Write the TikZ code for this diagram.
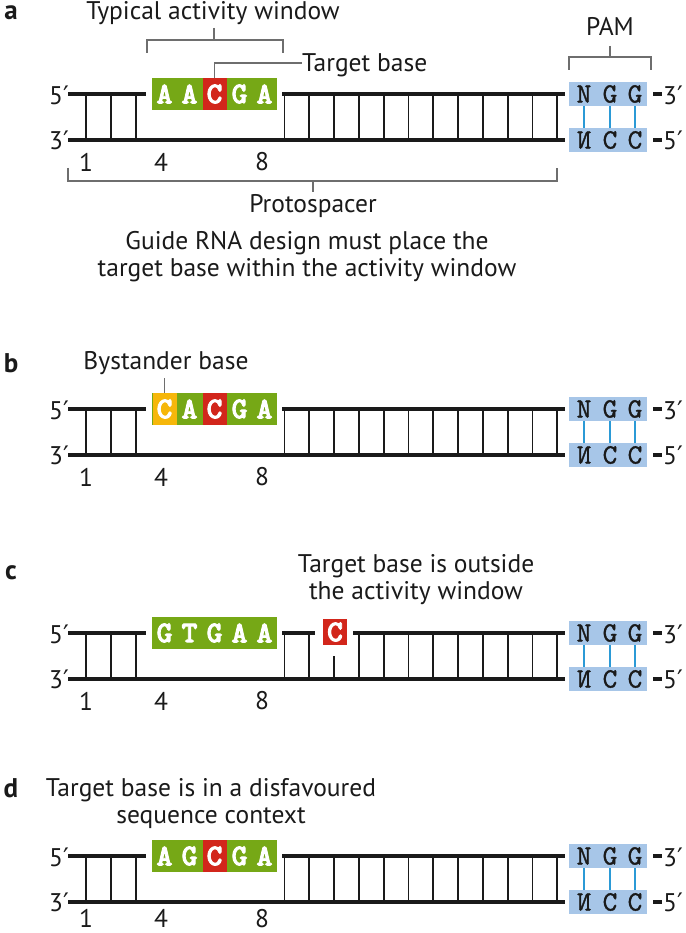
\documentclass[tikz,border=0pt]{standalone}
\usepackage{fontspec}
\setmainfont{PT Sans}
\newfontfamily\primef{DejaVu Sans}
\newfontfamily\monob{lmmonolt10-bold}[Extension=.otf, FakeBold=3]
\newfontfamily\monor{lmmono10-regular}[Extension=.otf, FakeBold=1.2]
\newcommand\prm{{\primef ′}}
\definecolor{grn}{HTML}{76A816}
\definecolor{rd}{HTML}{D2261B}
\definecolor{yl}{HTML}{F6B70A}
\definecolor{pam}{HTML}{A7C6E8}
\definecolor{pamline}{HTML}{2B9AD6}
\definecolor{brk}{HTML}{6E6E6E}
\definecolor{ink}{HTML}{1A1A1A}
\tikzset{
  strand/.style={line width=4.5pt, draw=ink},
  rung/.style={line width=1.8pt, draw=ink},
  brack/.style={line width=1.2pt, draw=brk},
  lbl/.style={font=\fontsize{25.5}{27}\selectfont, text=ink, inner sep=0pt},
  panlbl/.style={font=\fontsize{27}{28}\selectfont\bfseries, text=ink, inner sep=0pt},
  basetxt/.style={font=\monob\fontsize{30}{30}\selectfont, text=white, inner sep=0pt},
  pamtxt/.style={font=\monor\fontsize{28}{28}\selectfont, text=ink, inner sep=0pt},
  gbox/.style={fill=grn, minimum width=125pt, minimum height=32pt, inner sep=0pt},
  sbox/.style={fill=#1, minimum width=24pt, minimum height=32pt, inner sep=0pt},
  pbox/.style={fill=pam, minimum width=78pt, minimum height=24pt, inner sep=0pt},
  pline/.style={line width=1.5pt, draw=pamline},
}
% #1 prefix, #2 top strand y, #3 rung positions, #4 number offset
\newcommand\ladder[4]{%
  \pgfmathsetmacro\By{#2+46}
  \foreach \p in {#3}{\draw[rung] ({86+24.8*(\p-1)},#2) -- ({86+24.8*(\p-1)},\By);}
  \draw[strand] (68,\By) -- (565,\By);
  \draw[strand] (68,#2) -- (146,#2);
  \node[lbl, anchor=east] (#1-l5) at (69,#2+1) {5\prm};
  \node[lbl, anchor=east] (#1-l3) at (69,\By) {3\prm};
  \node[lbl] (#1-n1) at (86,\By+#4) {1};
  \node[lbl] (#1-n4) at (161,\By+#4) {4};
  \node[lbl] (#1-n8) at (262,\By+#4) {8};
  % PAM
  \node[pbox] (#1-pt) at (608,#2) {};
  \node[pbox] (#1-pb) at (608,\By) {};
  \node[pamtxt] (#1-pN) at (584,#2) {N};
  \node[pamtxt] (#1-pG1) at (610,#2) {G};
  \node[pamtxt] (#1-pG2) at (635,#2) {G};
  \node[pamtxt] (#1-pI) at (584,\By) {\reflectbox{N}};
  \node[pamtxt] (#1-pC1) at (610,\By) {C};
  \node[pamtxt] (#1-pC2) at (635,\By) {C};
  \foreach \xx in {584,610,635}{\draw[pline] (\xx,#2+12) -- (\xx,\By-12);}
  \draw[strand] (653,#2) -- (662,#2);
  \draw[strand] (653,\By) -- (662,\By);
  \node[lbl, anchor=west] (#1-r3) at (663,#2+1) {3\prm};
  \node[lbl, anchor=west] (#1-r5) at (663,\By) {5\prm};
}
\begin{document}
\begin{tikzpicture}[x=1pt,y=-1pt]
\useasboundingbox (0,0) rectangle (685,933);
\fill[white] (0,0) rectangle (685,933);

% ---------------- panel a
\node[panlbl] (la) at (11,13) {a};
\ladder{a}{94}{1,2,3,9,10,11,12,13,14,15,16,17,18,19,20}{22}
\draw[strand] (282,94) -- (565,94);
\node[gbox] (a-box) at (214.5,94) {};
\node[sbox=rd] (a-red) at (214.5,94) {};
\node[basetxt] (a-b1) at (164.5,94) {A};
\node[basetxt] (a-b2) at (189.5,94) {A};
\node[basetxt] (a-b3) at (214.5,94) {C};
\node[basetxt] (a-b4) at (239.5,94) {G};
\node[basetxt] (a-b5) at (264.5,94) {A};
\node[lbl] (a-tw) at (213,13) {Typical activity window};
\coordinate (a-tws) at (214,40);
\draw[brack] (147,53) -- (147,40) -- (283,40) -- (283,53);
\draw[brack] (a-tws |- 0,28) -- (a-tws);
\node[lbl, anchor=west] (a-tb) at (302,65) {Target base};
\draw[brack] (a-red.north) -- (214.5,63) -- (a-tb.west |- 0,63);
\node[lbl] (a-pam) at (610,26) {PAM};
\draw[brack] (569,70) -- (569,57) -- (651,57) -- (651,70);
\draw[brack] (610,46) -- (610,57);
\draw[brack] (68,168) -- (68,181) -- (557,181) -- (557,168);
\node[lbl] (a-ps) at (313,206) {Protospacer};
\draw[brack] (313,181) -- (313,192);
\node[lbl, align=center] (a-guide) at (307,257) {Guide RNA design must place the\\target base within the activity window};

% ---------------- panel b
\node[panlbl] (lb) at (11,363) {b};
\ladder{b}{409}{1,2,3,9,10,11,12,13,14,15,16,17,18,19,20}{22}
\draw[strand] (282,409) -- (565,409);
\node[gbox] (b-box) at (214.5,409) {};
\node[sbox=yl] (b-yel) at (164.5,409) {};
\node[sbox=rd] (b-red) at (214.5,409) {};
\node[basetxt] (b-b1) at (164.5,409) {C};
\node[basetxt] (b-b2) at (189.5,409) {A};
\node[basetxt] (b-b3) at (214.5,409) {C};
\node[basetxt] (b-b4) at (239.5,409) {G};
\node[basetxt] (b-b5) at (264.5,409) {A};
\node[lbl] (b-by) at (166,363) {Bystander base};
\draw[brack] (b-yel.north |- 0,378) -- (b-yel.north);

% ---------------- panel c
\node[panlbl] (lc) at (11,573) {c};
\ladder{c}{633}{1,2,3,9,10,12,13,14,15,16,17,18,19,20}{22}
\draw[strand] (282,633) -- (315,633);
\draw[strand] (353,633) -- (565,633);
\node[gbox] (c-box) at (214.5,633) {};
\node[basetxt] (c-b1) at (164.5,633) {G};
\node[basetxt] (c-b2) at (189.5,633) {T};
\node[basetxt] (c-b3) at (214.5,633) {G};
\node[basetxt] (c-b4) at (239.5,633) {A};
\node[basetxt] (c-b5) at (264.5,633) {A};
\node[sbox=rd, minimum height=26pt] (c-red) at (335,632) {};
\node[basetxt] (c-c) at (335,632) {C};
\coordinate (c-bot) at (334.2,679);
\draw[rung] (c-bot |- 0,656) -- (c-bot);
\node[lbl, align=center] (c-txt) at (416,580) {Target base is outside\\the activity window};

% ---------------- panel d
\node[panlbl] (ld) at (11,788) {d};
\ladder{d}{856}{1,2,3,9,10,11,12,13,14,15,16,17,18,19,20}{16.5}
\draw[strand] (282,856) -- (565,856);
\node[gbox] (d-box) at (214.5,856) {};
\node[sbox=rd] (d-red) at (214.5,856) {};
\node[basetxt] (d-b1) at (164.5,856) {A};
\node[basetxt] (d-b2) at (189.5,856) {G};
\node[basetxt] (d-b3) at (214.5,856) {C};
\node[basetxt] (d-b4) at (239.5,856) {G};
\node[basetxt] (d-b5) at (264.5,856) {A};
\node[lbl, align=center] (d-txt) at (211,804) {Target base is in a disfavoured\\sequence context};
\end{tikzpicture}
\end{document}
